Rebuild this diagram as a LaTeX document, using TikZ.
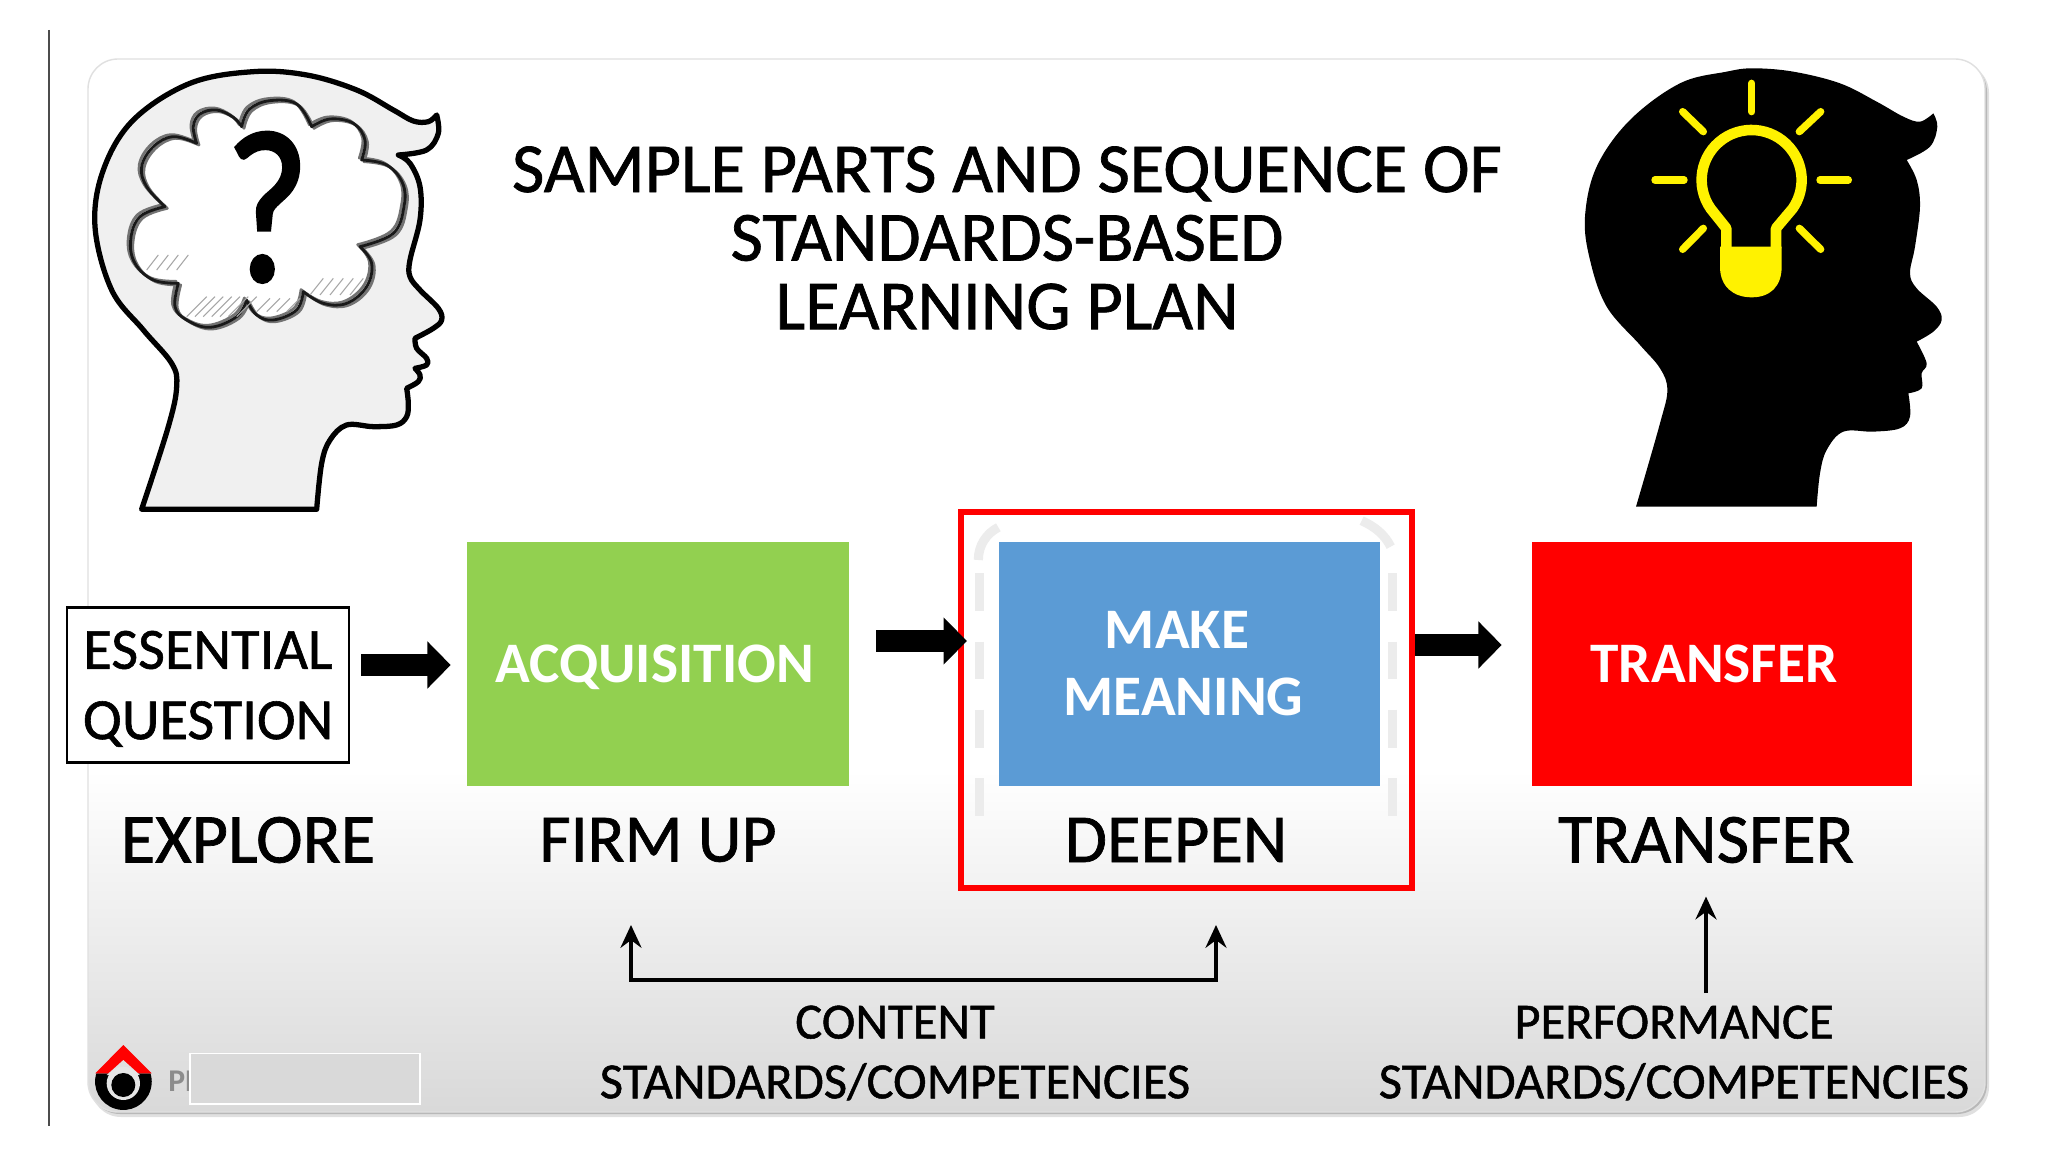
\documentclass[tikz,border=0pt]{standalone}
\usepackage{fontspec}
\usepackage{xcolor}
\setmainfont{Carlito}
\newfontfamily\midfont[FakeBold=1]{Carlito}
\newfontfamily\markfont[FakeBold=2]{Carlito}
\usetikzlibrary{arrows.meta}

\definecolor{stepgreen}{HTML}{92D050}
\definecolor{stepblue}{HTML}{5B9BD5}
\definecolor{headgray}{HTML}{F0F0F0}
\definecolor{fadegray}{HTML}{ECECEC}

\newcommand{\nodepth}[1]{\raisebox{0pt}[\height][0pt]{#1}}
\newcommand{\cloudpath}{
  plot[smooth,tension=0.65] coordinates {(470,370) (460,320) (480,282) (530,270) (580,292) (605,320)}
  -- plot[smooth,tension=0.65] coordinates {(605,320) (628,268) (690,242) (770,252) (815,320)}
  -- plot[smooth,tension=0.65] coordinates {(815,320) (870,297) (940,310) (975,360) (965,420)}
  -- plot[smooth,tension=0.65] coordinates {(965,420) (1040,435) (1088,490) (1092,560) (1060,640) (960,680)}
  -- plot[smooth,tension=0.65] coordinates {(960,680) (995,730) (980,800) (920,850) (850,850) (790,815)}
  -- plot[smooth,tension=0.65] coordinates {(790,815) (770,870) (700,900) (650,885) (620,840)}
  -- plot[smooth,tension=0.65] coordinates {(620,840) (590,890) (510,922) (440,900) (405,860) (415,790)}
  -- plot[smooth,tension=0.65] coordinates {(415,790) (340,780) (285,730) (272,660) (300,590) (375,560)}
  -- plot[smooth,tension=0.65] coordinates {(375,560) (320,500) (305,440) (340,380) (400,350) (470,370)}
  -- cycle}

\tikzset{
  stepbox/.style={minimum width=3.81cm,minimum height=2.44cm,inner sep=0pt,text=white,align=center,font=\fontsize{16.3}{19}\selectfont\bfseries},
  phaselabel/.style={font=\fontsize{20}{22}\midfont},
  standardlabel/.style={align=center,font=\fontsize{14.4}{17}\midfont},
  bigarrow/.style={-{Triangle[length=6.6pt,width=13pt]},line width=6.2pt},
  thinarrow/.style={line width=0.9pt},
  thintip/.tip={Stealth[length=6.5pt,width=6pt,inset=2.2pt]},
  cloudline/.style={line width=0.8pt,line join=round},
  ray/.style={yellow,line width=2.1pt,line cap=round},
  fadedash/.style={fadegray,line width=2.6pt}
}

\begin{document}
\begin{tikzpicture}[x=0.01cm,y=-0.01cm]
  \useasboundingbox (0,0) rectangle (2048,1152);
  \fill[white] (0,0) rectangle (2048,1152);

  % Margin rule
  \draw[black!70,line width=0.7pt] (49,30) -- (49,1126);

  % Panel
  \fill[black!12,rounded corners=0.3cm] (91,63) rectangle (1989,1117);
  \fill[black!28,rounded corners=0.3cm] (90,62) rectangle (1987,1114);
  \begin{scope}
    \clip[rounded corners=0.3cm] (88,59) rectangle (1985,1112);
    \fill[white] (88,59) rectangle (1985,1112);
    \shade[top color=white,bottom color=black!15] (88,770) rectangle (1985,1112);
  \end{scope}
  \draw[black!12,rounded corners=0.3cm] (88,59) rectangle (1985,1112);

  % Thinking head
  \begin{scope}[shift={(40,20)},scale=1/3]
    \filldraw[fill=headgray,draw=black,line width=1.5pt,line join=round]
      (305,1468) -- plot[smooth,tension=0.6] coordinates {(305,1468) (385,1220) (410,1100) (395,1030) (310,930) (215,810) (165,620) (190,450) (280,300) (450,190) (640,155) (800,165) (950,210) (1060,270) (1120,303) (1165,305) (1190,285)}
      -- plot[smooth,tension=0.6] coordinates {(1190,285) (1195,340) (1160,390) (1075,405)}
      -- plot[smooth,tension=0.6] coordinates {(1075,405) (1110,430) (1140,500) (1140,600) (1110,720) (1110,770) (1140,810) (1195,865) (1205,900) (1180,925) (1125,955)}
      -- plot[smooth,tension=0.6] coordinates {(1125,955) (1130,985) (1160,1015) (1160,1035) (1125,1045)}
      -- plot[smooth,tension=0.6] coordinates {(1125,1045) (1140,1065) (1135,1085) (1100,1105)}
      -- plot[smooth,tension=0.6] coordinates {(1100,1105) (1105,1150) (1100,1190) (1070,1215) (1000,1220) (920,1215) (870,1260) (845,1330) (830,1468)}
      -- cycle;
    % Cloud
    \foreach \dx/\dy in {-7/-6,7/5,0/0}
      \fill[white,shift={(\dx,\dy)}] \cloudpath;
    \foreach \dx/\dy/\cloudcolor in {-7/-6/black!55,7/5/black!55,0/0/black!90}
      \draw[draw=\cloudcolor,cloudline,shift={(\dx,\dy)}] \cloudpath;
    % Hatching
    \foreach \x in {440,465,...,590} \draw[black!35,line width=0.3pt] (\x,890) -- ++(60,-60);
    \foreach \x in {650,680,...,740} \draw[black!35,line width=0.3pt] (\x,875) -- ++(40,-40);
    \foreach \x in {810,840,...,930} \draw[black!35,line width=0.3pt] (\x,825) -- ++(40,-50);
    \foreach \x in {320,350,...,410} \draw[black!35,line width=0.3pt] (\x,750) -- ++(35,-45);
    \node[font=\fontsize{64}{64}\markfont] (question) at (682,562) {\scalebox{0.8}[0.96]{?}};
  \end{scope}

  % Idea head
  \begin{scope}[shift={(1540,40)},scale=1/3]
    \fill[black]
      (288,1400) -- plot[smooth,tension=0.6] coordinates {(288,1400) (360,1150) (382,1050) (360,985) (300,915) (200,800) (150,660) (135,530) (170,380) (270,240) (420,130) (560,95) (640,85) (760,95) (900,130) (1010,185) (1090,230) (1140,245) (1180,220)}
      -- plot[smooth,tension=0.6] coordinates {(1180,220) (1192,260) (1170,320) (1100,360)}
      -- plot[smooth,tension=0.6] coordinates {(1100,360) (1130,420) (1140,500) (1125,620) (1110,700) (1130,745) (1190,800) (1205,840) (1180,875) (1130,905)}
      -- plot[smooth,tension=0.6] coordinates {(1130,905) (1160,970) (1145,1000) (1145,1045) (1105,1060)}
      -- plot[smooth,tension=0.6] coordinates {(1105,1060) (1110,1130) (1080,1165) (1000,1175) (910,1175) (860,1230) (840,1300) (830,1400)}
      -- cycle;
    % Bulb
    \draw[yellow,line width=3pt,line join=round]
      (559,625) -- (559,565) -- (512,506) arc[start angle=145,end angle=395,radius=150] -- (708,565) -- (708,625);
    \fill[yellow] (540,620) -- (725,620) -- (725,680) .. controls (725,740) and (690,772) .. (635,772)
      .. controls (580,772) and (540,740) .. (540,680) -- cycle;
    \draw[ray] (635,130) -- (635,215);
    \draw[ray] (428,215) -- (490,275);
    \draw[ray] (842,215) -- (778,275);
    \draw[ray] (345,420) -- (432,420);
    \draw[ray] (840,420) -- (925,420);
    \draw[ray] (428,628) -- (490,565);
    \draw[ray] (842,628) -- (778,565);
  \end{scope}

  % Title
  \node[align=center,font=\fontsize{20}{19.5}\midfont] (title) at (1007,238)
    {SAMPLE PARTS AND SEQUENCE OF\\STANDARDS-BASED\\LEARNING PLAN};

  % Faded outline round the deepen step
  \begin{scope}[shift={(940,490)},scale=1/3]
    \foreach \ya in {250,455,660,865} {
      \draw[fadedash] (118,\ya) -- ++(0,113);
      \draw[fadedash] (1358,\ya) -- ++(0,113);
    }
    \draw[fadedash] (115,210) .. controls (115,165) and (140,130) .. (175,112);
    \draw[fadedash] (1265,92) .. controls (1305,110) and (1335,135) .. (1352,170);
  \end{scope}

  % Steps
  \node[draw=black,fill=white,line width=0.7pt,minimum width=2.82cm,minimum height=1.55cm,inner sep=0pt,align=center,font=\fontsize{16.6}{20}\midfont] (essential) at (208,685) {ESSENTIAL\\\nodepth{QUESTION}};
  \node[stepbox,fill=stepgreen] (acquisition) at (658,664) {\hspace*{-0.07cm}\nodepth{ACQUISITION}};
  \node[stepbox,fill=stepblue] (meaning) at (1189.5,664) {\hspace*{-0.25cm}MAKE\\\hspace*{-0.12cm}MEANING};
  \node[stepbox,fill=red,minimum width=3.79cm] (transfer) at (1722,664) {\hspace*{-0.16cm}TRANSFER};
  \node[draw=red,line width=1.7pt,minimum width=4.51cm,minimum height=3.76cm,inner sep=0pt] (deepenframe) at (1186.5,700) {};

  % Phase labels
  \node[phaselabel] (explore) at (248,840) {EXPLORE};
  \node[phaselabel,font=\fontsize{19.3}{22}\midfont] (firmup) at (658,840) {FIRM UP};
  \node[phaselabel,font=\fontsize{19.5}{22}\midfont] (deepen) at (1176,840) {DEEPEN};
  \node[phaselabel] (transferlabel) at (1706,840) {TRANSFER};

  % Arrows between steps
  \draw[bigarrow] ([shift={(11,-20)}]essential.east) -- ([shift={(-16,1)}]acquisition.west);
  \draw[bigarrow] ([shift={(27,-23)}]acquisition.east) -- ([shift={(9,-59)}]deepenframe.west);
  \draw[bigarrow] ([shift={(0,-55)}]deepenframe.east) -- ([shift={(-30,-19)}]transfer.west);

  % Standards
  \node[standardlabel] (content) at (895,1053) {CONTENT\\STANDARDS/COMPETENCIES};
  \node[standardlabel] (performance) at (1674,1053) {PERFORMANCE\\STANDARDS/COMPETENCIES};
  \coordinate (contentleft) at (631,925);
  \coordinate (contentright) at (1216,925);
  \coordinate (contentbar) at (895,980);
  \draw[thinarrow,{thintip}-{thintip}] (contentleft) |- (contentbar) -| (contentright);
  \draw[thinarrow,-{thintip}] (transferlabel.south |- performance.north) -- ([yshift=-6pt]transferlabel.south);

  % Logo
  \begin{scope}[shift={(40,980)},scale=1/3]
    \fill[black] (169,280) arc[start angle=197,end angle=-17,radius=85] -- cycle;
    \fill[red] (250,195) -- (335,280) -- (166,280) -- cycle;
    \fill[black!12] (250,240) -- (300,285) -- (200,285) -- cycle;
    \fill[black!10] (250,310) circle[radius=50];
    \fill[black] (250,315) circle[radius=36];
    \node[text=black!45,font=\fontsize{9}{9}\selectfont\bfseries,anchor=west,inner sep=0pt] (logotext) at (383,305) {PE};
    \draw[fill=black!15,draw=white,line width=0.4pt] (450,220) rectangle (1140,372);
  \end{scope}
\end{tikzpicture}
\end{document}
